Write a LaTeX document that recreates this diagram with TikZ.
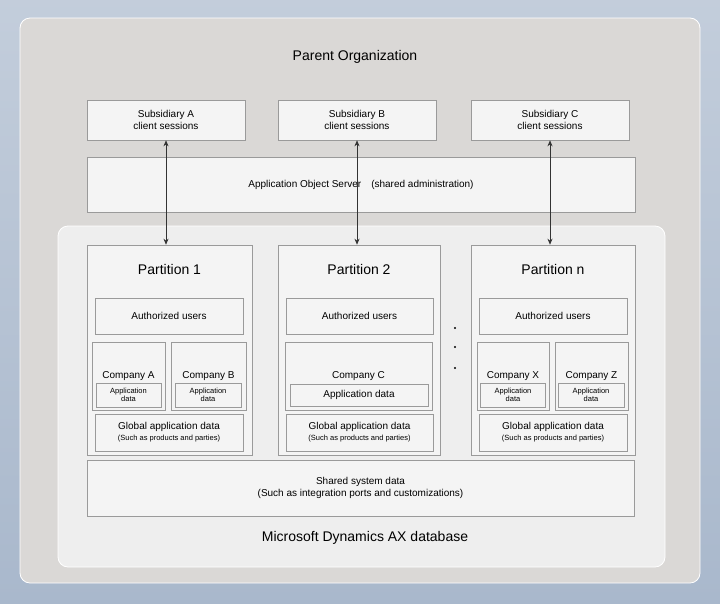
\documentclass[tikz,border=0pt]{standalone}
\usepackage{fontspec}
\setmainfont{Liberation Sans}
\usetikzlibrary{arrows.meta}
\definecolor{bgblue}{HTML}{A9B8CC}
\definecolor{outer}{HTML}{DAD8D6}
\definecolor{inner}{HTML}{EEEEEE}
\definecolor{boxf}{HTML}{F4F4F4}
\definecolor{boxd}{HTML}{9A9A9A}
\begin{document}
\begin{tikzpicture}[x=1pt,y=-1pt,
  box/.style={draw=boxd,fill=boxf,line width=0.6pt,align=center,inner sep=0pt},
  txt/.style={font=\fontsize{10}{12}\selectfont,align=center},
  tiny/.style={font=\fontsize{7.5}{8.5}\selectfont,align=center},
  big/.style={font=\fontsize{14}{16}\selectfont},
  arr/.style={{Stealth[length=6pt,width=5pt]}-{Stealth[length=6pt,width=5pt]},line width=0.7pt,draw=black!80}]
\useasboundingbox (0,0) rectangle (720,603);
\shade[top color=bgblue!70,bottom color=bgblue] (0,0) rectangle (720,603);
\draw[draw=white,fill=outer,rounded corners=10pt,line width=0.8pt] (20,18) rectangle (700,583);
\draw[draw=white,fill=inner,rounded corners=10pt,line width=0.8pt] (58,226) rectangle (665,567);
\node[big] (po) at (355,57) {Parent Organization};
% subsidiaries
\node[box,txt,minimum width=158pt,minimum height=40pt] (sa) at (166,120) {Subsidiary A\\client sessions};
\node[box,txt,minimum width=158pt,minimum height=40pt] (sb) at (357,120) {Subsidiary B\\client sessions};
\node[box,txt,minimum width=158pt,minimum height=40pt] (sc) at (550,120) {Subsidiary C\\client sessions};
\node[box,txt,minimum width=548pt,minimum height=55pt] (aos) at (361,184.5) {Application Object Server\quad(shared administration)};
% partitions
\node[box,minimum width=165pt,minimum height=210pt] (p1) at (169.5,350) {};
\node[box,minimum width=162pt,minimum height=210pt] (p2) at (359,350) {};
\node[box,minimum width=164pt,minimum height=210pt] (pn) at (553,350) {};
\node[big] (t1) at (169.5,269) {Partition 1};
\node[big] (t2) at (359,269) {Partition 2};
\node[big] (tn) at (553,269) {Partition n};
\node[box,txt,minimum width=148pt,minimum height=36pt] (u1) at (169,316) {Authorized users};
\node[box,txt,minimum width=147pt,minimum height=36pt] (u2) at (359.5,316) {Authorized users};
\node[box,txt,minimum width=148pt,minimum height=36pt] (un) at (553,316) {Authorized users};
% companies
\node[box,minimum width=73pt,minimum height=68pt] (ca) at (128.5,376) {};
\node[txt] at (128.5,376) {Company A};
\node[box,tiny,minimum width=65pt,minimum height=24pt] (da) at (128.5,395) {Application\\data};
\node[box,minimum width=75pt,minimum height=68pt] (cb) at (208.5,376) {};
\node[txt] at (208.5,376) {Company B};
\node[box,tiny,minimum width=66pt,minimum height=24pt] (db) at (208,395) {Application\\data};
\node[box,minimum width=147pt,minimum height=68pt] (cc) at (358.5,376) {};
\node[txt] at (358.5,376) {Company C};
\node[box,txt,minimum width=138pt,minimum height=22pt] (dc) at (359,395) {Application data};
\node[box,minimum width=72pt,minimum height=68pt] (cx) at (513,376) {};
\node[txt] at (513,376) {Company X};
\node[box,tiny,minimum width=65pt,minimum height=24pt] (dx) at (513,395) {Application\\data};
\node[box,minimum width=73pt,minimum height=68pt] (cz) at (591.5,376) {};
\node[txt] at (591.5,376) {Company Z};
\node[box,tiny,minimum width=66pt,minimum height=24pt] (dz) at (591,395) {Application\\data};
% global
\node[box,minimum width=148pt,minimum height=37pt,align=center] (g1) at (169,432.5) {{\fontsize{10}{12}\selectfont Global application data}\\[-1pt]{\fontsize{7.5}{9}\selectfont (Such as products and parties)}};
\node[box,minimum width=147pt,minimum height=37pt,align=center] (g2) at (359.5,432.5) {{\fontsize{10}{12}\selectfont Global application data}\\[-1pt]{\fontsize{7.5}{9}\selectfont (Such as products and parties)}};
\node[box,minimum width=148pt,minimum height=37pt,align=center] (gn) at (553,432.5) {{\fontsize{10}{12}\selectfont Global application data}\\[-1pt]{\fontsize{7.5}{9}\selectfont (Such as products and parties)}};
\node[box,txt,minimum width=547pt,minimum height=56pt] (ss) at (360.5,488) {Shared system data\\(Such as integration ports and customizations)};
\node[big] (db) at (365,538) {Microsoft Dynamics AX database};
% dots
\foreach \yy/\nm in {328/d1,347/d2,368/d3} \fill (455,\yy) coordinate (\nm) circle (1.1pt);
% arrows
\draw[arr] (sa.south) -- (sa.south |- p1.north);
\draw[arr] (sb.south) -- (sb.south |- p2.north);
\draw[arr] (sc.south) -- (sc.south |- pn.north);
\end{tikzpicture}
\end{document}
